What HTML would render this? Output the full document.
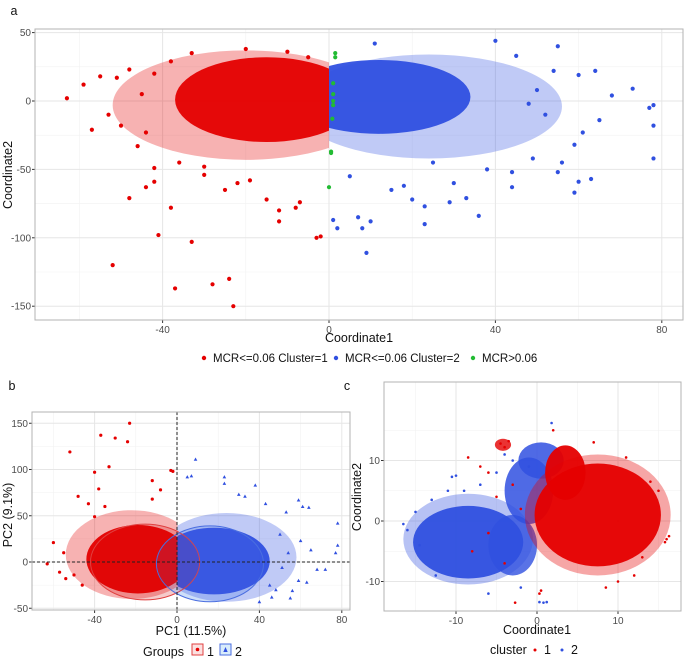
<!DOCTYPE html>
<html><head><meta charset="utf-8"><style>
body{margin:0;background:#fff;}
svg{display:block;font-family:"Liberation Sans",Arial,sans-serif;}
.tk{font-size:10px;fill:#4d4d4d;}
.ax{font-size:12.5px;fill:#111;}
.lg{font-size:11.5px;fill:#111;}
</style></head><body>
<svg id="fig" width="685" height="660" viewBox="0 0 685 660">
<defs>
<clipPath id="clipAL"><rect x="0" y="0" width="329" height="660"/></clipPath>
<clipPath id="clipAR"><rect x="329" y="0" width="360" height="660"/></clipPath>
<clipPath id="clipBL"><rect x="0" y="380" width="177.5" height="280"/></clipPath>
<clipPath id="clipBR"><rect x="177.5" y="380" width="200" height="280"/></clipPath>
<clipPath id="clipC"><rect x="384" y="380" width="297" height="231"/></clipPath>
<clipPath id="clipCR"><rect x="540" y="380" width="141" height="231"/></clipPath>
</defs>
<g id="pa"></g>
<g id="pb"></g>
<g id="pc"></g>
</svg>
<script>
// ---------- Panel a data ----------
const aXTicks = [-40, 0, 40, 80];
const aYTicks = [50, 0, -50, -100, -150];
const aRedX = [-63,-59,-57,-55,-51,-48,-44,-42,-42,-41,-38,-52,-37,-33,-28,-24,-23,-3,-2,-12,-12,-15,-8,-7,-25,-30,-19,-46,-44,-53,-50,-48,-42,-38,-33,-20,-10,-5,-36,-45,-30,-22];
const aRedY = [2,12,-21,18,17,-71,-63,-59,-49,-98,-78,-120,-137,-103,-134,-130,-150,-100,-99,-88,-80,-72,-78,-74,-65,-54,-58,-33,-23,-10,-18,23,20,29,35,38,36,32,-45,5,-48,-60];
const aBlueX = [9,1,2,7,8,10,23,23,20,29,33,36,44,59,60,63,55,44,49,56,59,61,65,68,73,77,78,78,78,64,60,55,40,45,11,54,48,52,30,15,5,38,50,25,18];
const aBlueY = [-111,-87,-93,-85,-93,-88,-90,-77,-72,-74,-71,-84,-63,-67,-59,-57,-52,-52,-42,-45,-32,-23,-14,4,9,-5,-3,-18,-42,22,19,40,44,33,42,22,-2,-10,-60,-65,-55,-50,8,-45,-62];
const aGreenX = [1.5,1.5,1,1,1,1,0.8,0.5,0.5,0];
const aGreenY = [35,32,13,5,0,-3,-13,-37,-38,-63];
const aCloudRedCx=[-15,-20], aCloudRedCy=[1,-3], aCloudRedRx=[22,32], aCloudRedRy=[31,40], aCloudRedOp=[0.95,0.3];
const aCloudBlueCx=[12,24], aCloudBlueCy=[3,-4], aCloudBlueRx=[22,32], aCloudBlueRy=[27,38], aCloudBlueOp=[0.95,0.3];

// ---------- Panel b data ----------
const bXTicks = [-40, 0, 40, 80];
const bYTicks = [150, 100, 50, 0, -50];
const bRedX = [-52,-37,-30,-24,-23,-40,-33,-38,-48,-43,-40,-60,-55,-63,-57,-54,-12,-3,-2,-8,-12,-46,-50,-35];
const bRedY = [119,137,134,130,150,97,103,79,71,63,49,21,10,-2,-11,-18,88,99,98,78,68,-25,-14,60];
const bBlueX = [9,5,7,23,23,38,30,33,59,61,64,53,43,78,78,77,68,65,60,55,48,56,59,63,72,40,46,51,54,50,45];
const bBlueY = [111,92,93,92,85,83,73,71,67,60,59,54,63,42,18,10,-8,13,23,-39,-30,-31,-20,-22,-8,-43,-38,-6,10,30,-25];
const bEllCx=[-15.5,16], bEllCy=[0,-2], bEllRx=[26.5,26], bEllRy=[41,41];
const bCloudRedCx=[-19,-22], bCloudRedCy=[3,8], bCloudRedRx=[25,32], bCloudRedRy=[37,48], bCloudRedOp=[0.95,0.3];
const bCloudBlueCx=[18,24], bCloudBlueCy=[1,5], bCloudBlueRx=[27,34], bCloudBlueRy=[36,48], bCloudBlueOp=[0.95,0.3];

// ---------- Panel c data ----------
const cXTicks = [-10, 0, 10];
const cYTicks = [10, 0, -10];
const cRedX = [-4.5,-3.5,-4,-8.5,-7,-6,2,7,11,-2.7,0.3,0.5,16,16.3,15.8,15,14,13,12,10,8.5,-5,-3,-6,-8,-4,-2];
const cRedY = [12.8,13.2,12.2,10.5,9,8,15,13,10.5,-13.5,-12,-11.5,-3,-2.5,-3.5,5,6.5,-6,-9,-10,-11,4,6,-2,-5,-7,2];
const cBlueX = [-16.5,-16,-15,-13,-11,-10,-9,-7,-5,-4,-3,0.3,0.8,1.2,1.8,-10.5,-12.5,-14.5,-6,-2,-1];
const cBlueY = [-0.5,-1.5,1.5,3.5,5,7.5,5,6,8,11,10,-13.4,-13.5,-13.4,16.2,7.3,-9,-4,-12,-11,9];
const cCloudBlueCx=[-8.5,-8.5,-1,0.5,-3], cCloudBlueCy=[-3.5,-3,5,10,-4], cCloudBlueRx=[6.8,8,3,2.8,3], cCloudBlueRy=[6,7.5,5.5,3,5], cCloudBlueOp=[0.95,0.35,0.85,0.85,0.8];
const cCloudRedCx=[7.5,7.5,3.5,-4.2], cCloudRedCy=[1,1,8,12.6], cCloudRedRx=[7.8,9,2.5,1], cCloudRedRy=[8.5,10,4.5,1], cCloudRedOp=[0.95,0.35,0.95,0.8];

const NS='http://www.w3.org/2000/svg';
const RED='#e50000', BLUE='#3050e0', GREEN='#22bb33';
function mk(parent, tag, attrs){const e=document.createElementNS(NS,tag);for(const k in attrs)e.setAttribute(k,attrs[k]);parent.appendChild(e);return e;}
function txt(parent, x, y, s, cls, anchor, extra){const t=mk(parent,'text',Object.assign({x:x,y:y,class:cls,'text-anchor':anchor||'middle'},extra||{}));t.textContent=s;return t;}

function frame(g, L,R,T,B, sx, sy, xt, yt, xminor, yminor){
  const grid=mk(g,'g',{});
  
  
  xminor.forEach(v=>mk(grid,'line',{x1:sx(v),x2:sx(v),y1:T,y2:B,stroke:'#f2f2f2','stroke-width':0.6}));
  yminor.forEach(v=>mk(grid,'line',{x1:L,x2:R,y1:sy(v),y2:sy(v),stroke:'#f2f2f2','stroke-width':0.6}));
  xt.forEach(v=>mk(grid,'line',{x1:sx(v),x2:sx(v),y1:T,y2:B,stroke:'#e6e6e6','stroke-width':1}));
  yt.forEach(v=>mk(grid,'line',{x1:L,x2:R,y1:sy(v),y2:sy(v),stroke:'#e6e6e6','stroke-width':1}));
  const tx=mk(g,'g',{});
  
  
  xt.forEach(v=>{mk(tx,'line',{x1:sx(v),x2:sx(v),y1:B,y2:B+3,stroke:'#333'});txt(tx,sx(v),B+13,String(v),'tk');});
  const ty=mk(g,'g',{});
  
  
  yt.forEach(v=>{mk(ty,'line',{x1:L-3,x2:L,y1:sy(v),y2:sy(v),stroke:'#333'});txt(ty,L-4,sy(v)+3.5,String(v),'tk','end');});
}
function border(g,L,R,T,B){const b=mk(g,'rect',{x:L,y:T,width:R-L,height:B-T,fill:'none',stroke:'#b3b3b3','stroke-width':1});
  
  }
function clouds(g,cx,cy,rx,ry,op,col,sx,sy,kx,ky,clip,name){
  cx.forEach((c,i)=>{const e=mk(g,'ellipse',{cx:sx(c),cy:sy(cy[i]),rx:rx[i]*kx,ry:ry[i]*ky,fill:col,opacity:op[i]});
    if(clip)e.setAttribute('clip-path','url(#'+clip+')');
    
    });
}
function dots(g,xs,ys,col,r,sx,sy,name){xs.forEach((x,i)=>{const c=mk(g,'circle',{cx:sx(x),cy:sy(ys[i]),r:r,fill:col});
  
  });}
function tris(g,xs,ys,col,r,sx,sy,name){xs.forEach((x,i)=>{const X=sx(x),Y=sy(ys[i]);
  const p=mk(g,'polygon',{points:`${X},${Y-r} ${X-r},${Y+r*0.8} ${X+r},${Y+r*0.8}`,fill:col});
  
  });}

// ===== Panel A =====
(function(){
  const g=document.getElementById('pa');
  const L=35,R=683,T=29,B=320;
  const sx=v=>329+v*4.16, sy=v=>101-v*1.368;
  txt(g,14,15,'a','ax','middle',{'font-size':'14'});
  frame(g,L,R,T,B,sx,sy,aXTicks,aYTicks,[-60,-20,20,60],[25,-25,-75,-125]);
  clouds(g,aCloudRedCx,aCloudRedCy,aCloudRedRx,aCloudRedRy,aCloudRedOp,RED,sx,sy,4.16,1.368,'clipAL','red-density');
  clouds(g,aCloudBlueCx,aCloudBlueCy,aCloudBlueRx,aCloudBlueRy,aCloudBlueOp,BLUE,sx,sy,4.16,1.368,'clipAR','blue-density');
  dots(g,aRedX,aRedY,RED,2.1,sx,sy,'cluster1-point');
  dots(g,aBlueX,aBlueY,BLUE,2.1,sx,sy,'cluster2-point');
  dots(g,aGreenX,aGreenY,GREEN,2.1,sx,sy,'mcr-high-point');
  border(g,L,R,T,B);
  const xl=txt(g,359,342,'Coordinate1','ax');
  
  
  const yl=txt(g,12,175,'Coordinate2','ax','middle',{transform:'rotate(-90 12 175)'});
  
  
  const lg=mk(g,'g',{});
  
  
  [[204,RED,'MCR<=0.06 Cluster=1'],[336,BLUE,'MCR<=0.06 Cluster=2'],[473,GREEN,'MCR>0.06']].forEach(([x,c,s])=>{
    const e=mk(lg,'g',{});
    
    
    mk(e,'circle',{cx:x,cy:358,r:2.2,fill:c});
    txt(e,x+9,362,s,'lg','start');
  });
})();

// ===== Panel B =====
(function(){
  const g=document.getElementById('pb');
  const L=32,R=350,T=412,B=610;
  const sx=v=>177+v*2.06, sy=v=>562-v*0.925;
  txt(g,12,390,'b','ax','middle',{'font-size':'14'});
  frame(g,L,R,T,B,sx,sy,bXTicks,bYTicks,[-60,-20,20,60],[125,75,25,-25]);
  bEllCx.forEach((c,i)=>{const e=mk(g,'ellipse',{cx:sx(c),cy:sy(bEllCy[i]),rx:bEllRx[i]*2.06,ry:bEllRy[i]*0.925,fill:i?'#d8ecfb':'#fbe0e0',opacity:0.8});
    
    });
  clouds(g,bCloudRedCx,bCloudRedCy,bCloudRedRx,bCloudRedRy,bCloudRedOp,RED,sx,sy,2.06,0.925,'clipBL','red-density');
  clouds(g,bCloudBlueCx,bCloudBlueCy,bCloudBlueRx,bCloudBlueRy,bCloudBlueOp,BLUE,sx,sy,2.06,0.925,'clipBR','blue-density');
  dots(g,bRedX,bRedY,RED,1.6,sx,sy,'group1-point');
  tris(g,bBlueX,bBlueY,BLUE,1.8,sx,sy,'group2-point');
  bEllCx.forEach((c,i)=>{const e=mk(g,'ellipse',{cx:sx(c),cy:sy(bEllCy[i]),rx:bEllRx[i]*2.06,ry:bEllRy[i]*0.925,fill:i?'rgba(80,110,230,0.12)':'rgba(200,0,0,0.12)',stroke:i?'#4a6ee0':'#e04040','stroke-width':1});
    
    });
  mk(g,'line',{x1:L,x2:R,y1:sy(0),y2:sy(0),stroke:'#222','stroke-dasharray':'3,2'});
  mk(g,'line',{x1:sx(0),x2:sx(0),y1:T,y2:B,stroke:'#222','stroke-dasharray':'3,2'});
  border(g,L,R,T,B);
  const xl=txt(g,191,635,'PC1 (11.5%)','ax');
  
  
  const yl=txt(g,12,515,'PC2 (9.1%)','ax','middle',{transform:'rotate(-90 12 515)'});
  
  
  const lg=mk(g,'g',{});
  
  
  txt(lg,143,656,'Groups','ax','start');
  const e1=mk(lg,'g',{});
  
  
  mk(e1,'rect',{x:192,y:644,width:11,height:11,fill:'#fbe0e0',stroke:'#e04040'});
  mk(e1,'circle',{cx:197.5,cy:649.5,r:1.8,fill:RED});
  txt(e1,207,656,'1','ax','start');
  const e2=mk(lg,'g',{});
  
  
  mk(e2,'rect',{x:220,y:644,width:11,height:11,fill:'#d8ecfb',stroke:'#4a6ee0'});
  mk(e2,'polygon',{points:'225.5,647 223.3,652 227.7,652',fill:BLUE});
  txt(e2,235,656,'2','ax','start');
})();

// ===== Panel C =====
(function(){
  const g=document.getElementById('pc');
  const L=384,R=681,T=382,B=611;
  const sx=v=>537+v*8.1, sy=v=>521-v*6.05;
  txt(g,347,390,'c','ax','middle',{'font-size':'14'});
  frame(g,L,R,T,B,sx,sy,cXTicks,cYTicks,[-15,-5,5,15],[15,5,-5]);
  clouds(g,cCloudBlueCx,cCloudBlueCy,cCloudBlueRx,cCloudBlueRy,cCloudBlueOp,BLUE,sx,sy,8.1,6.05,'clipC','blue-density');
  clouds(g,cCloudRedCx,cCloudRedCy,cCloudRedRx,cCloudRedRy,cCloudRedOp,RED,sx,sy,8.1,6.05,'clipC','red-density');
  dots(g,cRedX,cRedY,RED,1.3,sx,sy,'cluster1-point');
  dots(g,cBlueX,cBlueY,BLUE,1.3,sx,sy,'cluster2-point');
  border(g,L,R,T,B);
  const xl=txt(g,537,634,'Coordinate1','ax');
  
  
  const yl=txt(g,361,497,'Coordinate2','ax','middle',{transform:'rotate(-90 361 497)'});
  
  
  const lg=mk(g,'g',{});
  
  
  txt(lg,490,654,'cluster','ax','start');
  const e1=mk(lg,'g',{});
  
  
  mk(e1,'circle',{cx:535,cy:650,r:1.5,fill:RED});
  txt(e1,544,654,'1','ax','start');
  const e2=mk(lg,'g',{});
  
  
  mk(e2,'circle',{cx:562,cy:650,r:1.5,fill:BLUE});
  txt(e2,571,654,'2','ax','start');
})();
</script>
</body></html>
